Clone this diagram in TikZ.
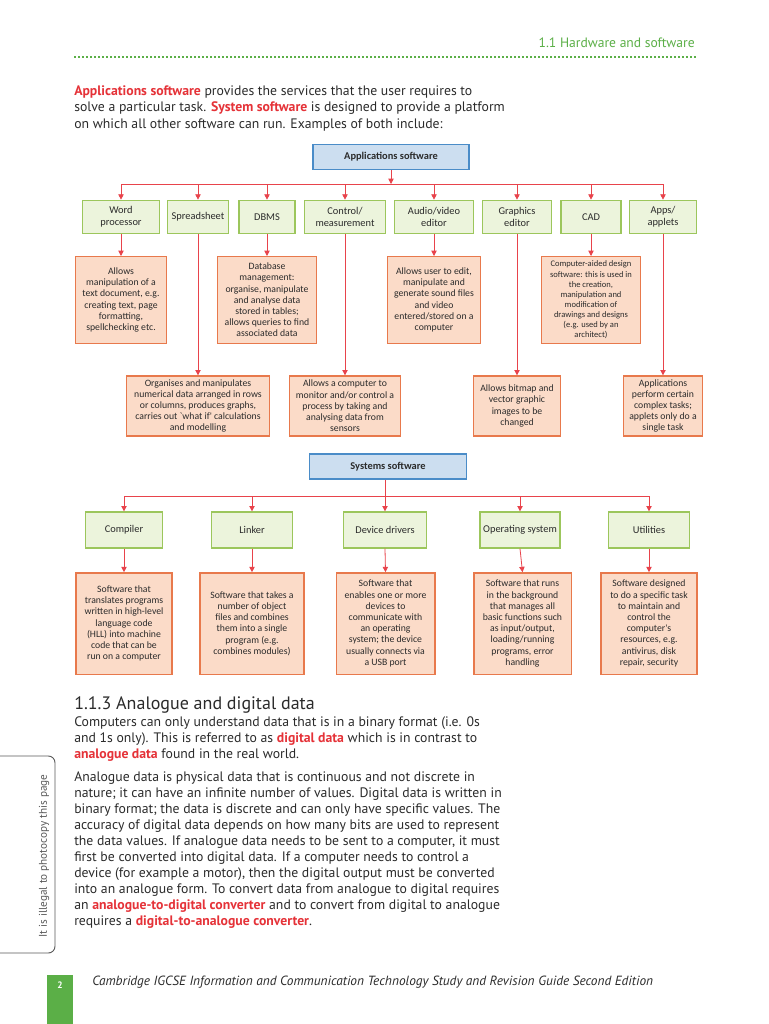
\documentclass[tikz,border=0pt]{standalone}
\usepackage{fontspec}
\setmainfont{PT Sans}
\newfontfamily\diag{Carlito}
\usetikzlibrary{arrows.meta}
\definecolor{hdgreen}{HTML}{5BAF47}
\definecolor{arr}{HTML}{E8434B}
\definecolor{gbd}{HTML}{9CC65C}
\definecolor{gfl}{HTML}{ECF4DC}
\definecolor{obd}{HTML}{E8794C}
\definecolor{ofl}{HTML}{FBDBC8}
\definecolor{bbd}{HTML}{4A8CC8}
\definecolor{bfl}{HTML}{CCDEF0}
\definecolor{kw}{HTML}{E53238}
\definecolor{txt}{HTML}{2B2B2B}
\tikzset{
  bodyline/.style={anchor=base west,inner sep=0pt,text=txt,font=\fontsize{10.3}{12}\selectfont},
  topbox/.style={draw=bbd,fill=bfl,line width=1.2pt,minimum width=118pt,minimum height=19pt,font=\diag\bfseries\fontsize{7.8}{9}\selectfont,text=txt},
  gbox/.style={draw=gbd,fill=gfl,line width=1pt,minimum height=25pt,inner sep=1pt,align=center,font=\diag\fontsize{7.8}{8.8}\selectfont,text=txt},
  obox/.style={draw=obd,fill=ofl,line width=1pt,inner sep=1pt,align=center,font=\diag\fontsize{7.3}{8.4}\selectfont,text=txt},
  conn/.style={draw=arr,line width=0.6pt},
  arrw/.style={conn,-{Triangle[width=4pt,length=4pt]}}
}
\newcommand{\kw}[1]{\textcolor{kw}{\bfseries #1}}
\begin{document}
\begin{tikzpicture}[x=0.75pt,y=-0.75pt]
\useasboundingbox (0,0) rectangle (768,1024);
\fill[white] (0,0) rectangle (768,1024);
% header
\node[anchor=base east,inner sep=0pt,text=hdgreen,font=\fontsize{10.2}{11}\selectfont] (hdr) at (695,48) {1.1 Hardware and software};
\draw[hdgreen,line width=1.4pt,dash pattern=on 1.3pt off 1.7pt] (74,57) -- (697,57);
% intro
\node[bodyline] (i1) at (74,95) {\kw{Applications software} provides the services that the user requires to};
\node[bodyline] (i2) at (74,112) {solve a particular task. \kw{System software} is designed to provide a platform};
\node[bodyline] (i3) at (74,128) {on which all other software can run. Examples of both include:};

% Applications diagram
\node[topbox,minimum width=117pt] (app) at (391,157) {Applications software};
\coordinate (abus) at (391,184);
\coordinate (aL) at (121,184);
\coordinate (aR) at (663,184);
\draw[conn] (aL) -- (aR);
\draw[arrw] (app.south) -- (abus);
\foreach \n/\x/\w/\t in {wp/121/58/{Word\\processor},ss/198/46/{Spreadsheet},db/267/42/{DBMS},cm/345/61/{Control/\\measurement},av/434/59/{Audio/video\\editor},ge/517/52/{Graphics\\editor},cad/591/45/{CAD},ap/663/50/{Apps/\\applets}}{
  \node[gbox,minimum width=\w pt] (\n) at (\x,217) {\t};
  \coordinate (b\n) at (\x,184);
  \draw[arrw] (b\n) -- (\n.north);
}
\node[obox,minimum width=68pt,minimum height=65pt] (dwp) at (121,300) {Allows\\manipulation of a\\text document, e.g.\\creating text, page\\formatting,\\spellchecking etc.};
\node[obox,minimum width=74pt,minimum height=65pt] (ddb) at (267,300) {Database\\management:\\organise, manipulate\\and analyse data\\stored in tables;\\allows queries to find\\associated data};
\node[obox,minimum width=70pt,minimum height=65pt] (dav) at (434,300) {Allows user to edit,\\manipulate and\\generate sound files\\and video\\entered/stored on a\\computer};
\node[obox,minimum width=74pt,minimum height=65pt,font=\diag\fontsize{6.4}{7.6}\selectfont] (dcad) at (591,300) {Computer-aided design\\software: this is used in\\the creation,\\manipulation and\\modification of\\drawings and designs\\(e.g. used by an\\architect)};
\node[obox,minimum width=107pt,minimum height=45pt] (dss) at (198,406) {Organises and manipulates\\numerical data arranged in rows\\or columns, produces graphs,\\carries out `what if' calculations\\and modelling};
\node[obox,minimum width=83pt,minimum height=45pt] (dcm) at (345,406) {Allows a computer to\\monitor and/or control a\\process by taking and\\analysing data from\\sensors};
\node[obox,minimum width=65pt,minimum height=45pt] (dge) at (517,406) {Allows bitmap and\\vector graphic\\images to be\\changed};
\node[obox,minimum width=59pt,minimum height=45pt] (dap) at (663,406) {Applications\\perform certain\\complex tasks;\\applets only do a\\single task};
\foreach \a/\b in {wp/dwp,db/ddb,av/dav,cad/dcad,ss/dss,cm/dcm,ge/dge,ap/dap}{
  \draw[arrw] (\a.south) -- (\b.north);
}

% Systems diagram
\node[topbox] (sys) at (388,466.5) {Systems software};
\coordinate (sbus) at (385,496);
\coordinate (sL) at (124,496);
\coordinate (sR) at (649,496);
\draw[conn] (sL) -- (sR);
\draw[conn] (sys.south -| sbus) -- (sbus);
\foreach \n/\x/\w/\t in {co/124/58/{Compiler},li/252/61/{Linker},dd/385/62/{Device drivers},os/520/60/{Operating system},ut/649/61/{Utilities}}{
  \node[gbox,minimum width=\w pt,minimum height=27pt] (\n) at (\x,530) {\t};
  \coordinate (b\n) at (\x,496);
  \draw[arrw] (b\n) -- (\n.north);
}
\node[obox,minimum width=72pt,minimum height=76pt] (dco) at (124,623.5) {Software that\\translates programs\\written in high-level\\language code\\(HLL) into machine\\code that can be\\run on a computer};
\node[obox,minimum width=78pt,minimum height=76pt] (dli) at (252,623.5) {Software that takes a\\number of object\\files and combines\\them into a single\\program (e.g.\\combines modules)};
\node[obox,minimum width=74pt,minimum height=76pt] (ddd) at (385.5,623.5) {Software that\\enables one or more\\devices to\\communicate with\\an operating\\system; the device\\usually connects via\\a USB port};
\node[obox,minimum width=73pt,minimum height=76pt] (dos) at (522.5,623.5) {Software that runs\\in the background\\that manages all\\basic functions such\\as input/output,\\loading/running\\programs, error\\handling};
\node[obox,minimum width=72pt,minimum height=76pt] (dut) at (649,623.5) {Software designed\\to do a specific task\\to maintain and\\control the\\computer's\\resources, e.g.\\antivirus, disk\\repair, security};
\foreach \a/\b in {co/dco,li/dli,dd/ddd,os/dos,ut/dut}{
  \draw[arrw] (\a.south) -- (\b.north);
}

% section text
\node[anchor=base west,inner sep=0pt,text=txt,font=\fontsize{13.5}{15}\selectfont] (h113) at (74,709) {1.1.3 Analogue and digital data};
\node[bodyline] (p1) at (74,726) {Computers can only understand data that is in a binary format (i.e. 0s};
\node[bodyline] (p2) at (74,742) {and 1s only). This is referred to as \kw{digital data} which is in contrast to};
\node[bodyline] (p3) at (74,758) {\kw{analogue data} found in the real world.};
\node[bodyline] (q1) at (74,781) {Analogue data is physical data that is continuous and not discrete in};
\node[bodyline] (q2) at (74,797) {nature; it can have an infinite number of values. Digital data is written in};
\node[bodyline] (q3) at (74,813) {binary format; the data is discrete and can only have specific values. The};
\node[bodyline] (q4) at (74,829) {accuracy of digital data depends on how many bits are used to represent};
\node[bodyline] (q5) at (74,845) {the data values. If analogue data needs to be sent to a computer, it must};
\node[bodyline] (q6) at (74,861) {first be converted into digital data. If a computer needs to control a};
\node[bodyline] (q7) at (74,877) {device (for example a motor), then the digital output must be converted};
\node[bodyline] (q8) at (74,893) {into an analogue form. To convert data from analogue to digital requires};
\node[bodyline] (q9) at (74,909) {an \kw{analogue-to-digital converter} and to convert from digital to analogue};
\node[bodyline] (q10) at (74,925) {requires a \kw{digital-to-analogue converter}.};

% side tab
\draw[gray!70!black,line width=0.7pt,rounded corners=5pt] (-10,756) rectangle (55,953);
\node[rotate=90,text=gray!70!black,font=\fontsize{8.4}{9}\selectfont,inner sep=0pt] (tab) at (44,856) {It is illegal to photocopy this page};

% footer
\fill[hdgreen] (47,975) rectangle (73,1024);
\node[text=white,font=\bfseries\fontsize{7}{8}\selectfont,inner sep=0pt] (pg) at (60,985) {2};
\node[anchor=base west,inner sep=0pt,text=txt,font=\itshape\fontsize{10}{11}\selectfont] (ft) at (92,985) {Cambridge IGCSE Information and Communication Technology Study and Revision Guide Second Edition};
\end{tikzpicture}
\end{document}
